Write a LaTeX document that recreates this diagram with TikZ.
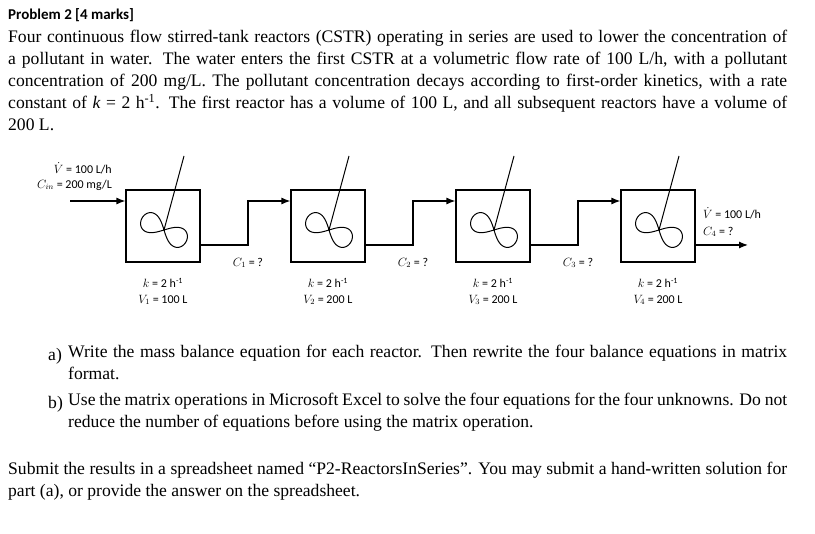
\documentclass[tikz,border=0pt]{standalone}
\usepackage{fontspec}
\setmainfont{Liberation Serif}
\newfontfamily\carl{Carlito}
\usetikzlibrary{arrows.meta}
\begin{document}
\begin{tikzpicture}[x=1pt,y=-1pt,
  box/.style={draw,line width=1.2pt,minimum width=74pt,minimum height=72pt,inner sep=0},
  flow/.style={line width=1.2pt,-{Latex[length=9pt,width=7pt]}},
  lab/.style={font=\carl\fontsize{12}{14}\selectfont,inner sep=0},
  body/.style={font=\fontsize{17.6}{22}\selectfont,inner sep=0,anchor=north west,align=justify}]
\useasboundingbox (0,0) rectangle (815,534);
\node[anchor=west,inner sep=0,font=\carl\bfseries\fontsize{15}{18}\selectfont] (title) at (8,15) {Problem 2 [4 marks]};
\node[body,text width=779pt] (p1) at (8,30) {Four continuous flow stirred-tank reactors (CSTR) operating in series are used to lower the concentration of a pollutant in water. The water enters the first CSTR at a volumetric flow rate of 100~L/h, with a pollutant concentration of 200~mg/L. The pollutant concentration decays according to first-order kinetics, with a rate constant of \textit{k} = 2~h\textsuperscript{-1}. The first reactor has a volume of 100~L, and all subsequent reactors have a volume of 200~L.\par};
\foreach \rn/\px/\vol in {1/163/100,2/328/200,3/493/200,4/658/200}{
  \node[box] (r\rn) at (\px,226) {};
  \draw[line width=1pt] (\px+21,156) -- (\px+1,230);
  \draw[line width=1pt,rotate around={-28:(\px+1,230)}] plot[domain=0:360,samples=80,smooth,variable=\ang] ({\px+1+25*cos(\ang)/(1+0.55*sin(\ang)^2)},{230+25*sin(\ang)*cos(\ang)/(1+0.55*sin(\ang)^2)});
  \node[lab] (k\rn) at (\px,283) {$k$ = 2 h\textsuperscript{-1}};
  \node[lab] (v\rn) at (\px,300) {$V_\rn$ = \vol\ L};
}
\coordinate (in) at (70,201);
\draw[flow] (in) -- (in -| r1.west);
\node[lab,anchor=east] (vin) at (112,168) {$\dot V$ = 100 L/h};
\node[lab,anchor=east] (cin) at (112,185) {$C_{in}$ = 200 mg/L};
\foreach \ra/\rb/\sx in {1/2/248,2/3/413,3/4/578}{
  \draw[flow] (r\ra.east |- 0,245) -- (\sx,245) -- (\sx,201) -- (r\rb.west |- 0,201);
  \node[lab] (c\ra) at (\sx,263) {$C_\ra$ = ?};
}
\coordinate (out) at (748,245);
\draw[flow] (r4.east |- out) -- (out);
\node[lab,anchor=west] (vo) at (703,213) {$\dot V$ = 100 L/h};
\node[lab,anchor=west] (co) at (703,232) {$C_4$ = ?};
\node[body,anchor=west] (la) at (48,356) {a)};
\node[body,text width=719pt] (ta) at (68,345) {Write the mass balance equation for each reactor. Then rewrite the four balance equations in matrix format.\par};
\node[body,anchor=west] (lb) at (48,404) {b)};
\node[body,text width=719pt] (tb) at (68,393) {Use the matrix operations in Microsoft Excel to solve the four equations for the four unknowns. Do not reduce the number of equations before using the matrix operation.\par};
\node[body,text width=779pt] (p2) at (8,462) {Submit the results in a spreadsheet named “P2-ReactorsInSeries”. You may submit a hand-written solution for part (a), or provide the answer on the spreadsheet.\par};
\end{tikzpicture}
\end{document}
